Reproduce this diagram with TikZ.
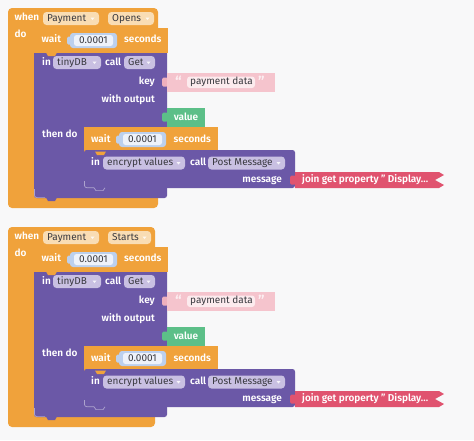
\documentclass[tikz,border=0pt]{standalone}
\usepackage{fontspec}
\setmainfont{Fira Sans}[BoldFont={Fira Sans SemiBold}]
\definecolor{bg}{RGB}{248,248,249}
\definecolor{ctrl}{HTML}{F0A23B}
\definecolor{ctrllt}{HTML}{F9DDB4}
\definecolor{comp}{HTML}{6B58A7}
\definecolor{complt}{HTML}{C9C0E2}
\definecolor{numout}{HTML}{BCD0EE}
\definecolor{numin}{HTML}{EEF2FA}
\definecolor{txtpink}{HTML}{F5C4CD}
\definecolor{txtpinkdk}{HTML}{EFB0BD}
\definecolor{txtpinklt}{HTML}{FCEBEE}
\definecolor{txtq}{HTML}{FCEEF1}
\definecolor{valgreen}{HTML}{5CBF88}
\definecolor{joinred}{HTML}{E0536F}
\definecolor{dtext}{HTML}{3A3A40}
\tikzset{
  lbl/.style={font=\bfseries\fontsize{10}{12}\selectfont, text=white, inner sep=0pt, text height=7pt, text depth=2pt},
  dtxt/.style={font=\fontsize{10}{12}\selectfont, text=dtext, inner sep=0pt, text height=7pt, text depth=2pt},
  quo/.style={font=\bfseries\fontsize{15}{15}\selectfont, text=txtq, inner sep=0pt},
  hilite/.style={white, opacity=.45, line width=0.7pt, rounded corners=2.6pt},
}
\newcommand\DropBox[6]{%
  \fill[#5, rounded corners=3.5pt] (#2,#4-6.5) rectangle (#3,#4+6.5);
  \node[dtxt, anchor=west] (#1) at (#2+4,#4) {#6};
  \fill[white, opacity=.85] (#3-8.5,#4-1) -- (#3-4.5,#4-1) -- (#3-6.5,#4+1.5) -- cycle;
}
\newcommand\NumIn[4]{%
  \fill[numout, rounded corners=1.5pt] (#2,#4-4) rectangle (#2+5,#4+4);
  \fill[numout, rounded corners=3pt] (#2+3,#4-7.5) rectangle (#3,#4+7.5);
  \fill[numin, rounded corners=2.5pt] (#2+7,#4-5.5) rectangle (#3-4,#4+5.5);
  \node[dtxt] (#1) at ({(#2+#3)/2+1.5},#4) {0.0001};
}
\newcommand\Tab[3]{%
  \fill[#1] (#2,#3-0.5) -- (#2+2,#3+3) -- (#2+9,#3+3) -- (#2+11,#3-0.5) -- cycle;
}
\newcommand\VTab[3]{%
  \fill[#1, rounded corners=1.5pt] (#2-5,#3-4.5) rectangle (#2+1,#3+4.5);
}
\newcommand\BlockSet[4]{%
  % when block
  \fill[ctrl, rounded corners=4pt] (8,8) rectangle (#4,208);
  \node[lbl, anchor=west] (when#1) at (14.5,18) {when};
  \node[lbl, anchor=west] (do#1) at (14.5,35) {do};
  \DropBox{obj#1}{43}{99}{18.5}{ctrllt}{Payment}
  \DropBox{ev#1}{108}{#3}{18.5}{ctrllt}{#2}
  % purple call block
  \fill[comp, rounded corners=2.5pt] (34,50) rectangle (167,198);
  \Tab{comp}{46}{198}
  \draw[hilite] (34.4,189) -- (34.4,197.6) -- (45,197.6);
  % wait block
  \fill[ctrl] (34,28) rectangle (168,53);
  \Tab{ctrl}{46}{53}
  \node[lbl, anchor=west] (wait#1) at (41.5,40) {wait};
  \NumIn{n#1}{67}{117}{40.5}
  \node[lbl, anchor=west] (sec#1) at (124,40) {seconds};
  % purple contents
  \node[lbl, anchor=west] (in#1) at (42,62.5) {in};
  \DropBox{db#1}{53}{101}{62.5}{complt}{tinyDB}
  \node[lbl, anchor=west] (call#1) at (105,62.5) {call};
  \DropBox{get#1}{124}{155}{62.5}{complt}{Get}
  \node[lbl, anchor=east] (key#1) at (155,82) {key};
  \VTab{txtpinkdk}{167}{82}
  \fill[txtpink] (167,73) rectangle (275,92);
  \node[quo, anchor=north west] (qa#1) at (175,75.5) {“};
  \fill[txtpinklt, rounded corners=3pt] (187,76.5) rectangle (255,88);
  \node[dtxt, anchor=west] (pd#1) at (190,82) {payment data};
  \node[quo, anchor=north west] (qb#1) at (258,75.5) {”};
  \node[lbl, anchor=east] (wo#1) at (155,99.5) {with output};
  \VTab{valgreen}{167}{117}
  \fill[valgreen] (167,108) rectangle (205,127);
  \node[lbl] (val#1) at (186,117.5) {value};
  \node[lbl, anchor=west] (td#1) at (42,135) {then do};
  % inner wait
  \fill[ctrl] (84,127) rectangle (218,152);
  \node[lbl, anchor=west] (waitb#1) at (91,139.5) {wait};
  \NumIn{m#1}{116}{166}{139.5}
  \node[lbl, anchor=west] (secb#1) at (173.5,139.5) {seconds};
  % encrypt call block
  \fill[comp, rounded corners=2.5pt] (84,150) rectangle (295,188);
  \Tab{ctrl}{95}{152}
  \draw[hilite] (84.4,181) -- (84.4,187.8) -- (94,187.8);
  \draw[white, opacity=.45, line width=0.7pt] (94,187.8) -- (96,190.6) -- (103,190.6) -- (105,187.8);
  \node[lbl, anchor=west] (inb#1) at (91,163) {in};
  \DropBox{enc#1}{103}{185}{163}{complt}{encrypt values}
  \node[lbl, anchor=west] (callb#1) at (190,163) {call};
  \DropBox{pm#1}{208}{285}{163}{complt}{Post Message}
  \node[lbl, anchor=east] (msg#1) at (282,180) {message};
  \VTab{joinred}{295}{180}
  \fill[joinred] (295,172) -- (439,172) -- (444,175) -- (435,180) -- (444,185) -- (439,188) -- (295,188) -- cycle;
  \node[lbl, anchor=west] (join#1) at (302,180) {join get property " Display...};
}
\begin{document}
\begin{tikzpicture}[x=1pt,y=-1pt]
  \fill[bg] (0,0) rectangle (474,440);
  \useasboundingbox (0,0) rectangle (474,440);
  \BlockSet{A}{Opens}{154}{158}
  \begin{scope}[yshift=-219pt]
    \BlockSet{B}{Starts}{151}{155}
  \end{scope}
\end{tikzpicture}
\end{document}
